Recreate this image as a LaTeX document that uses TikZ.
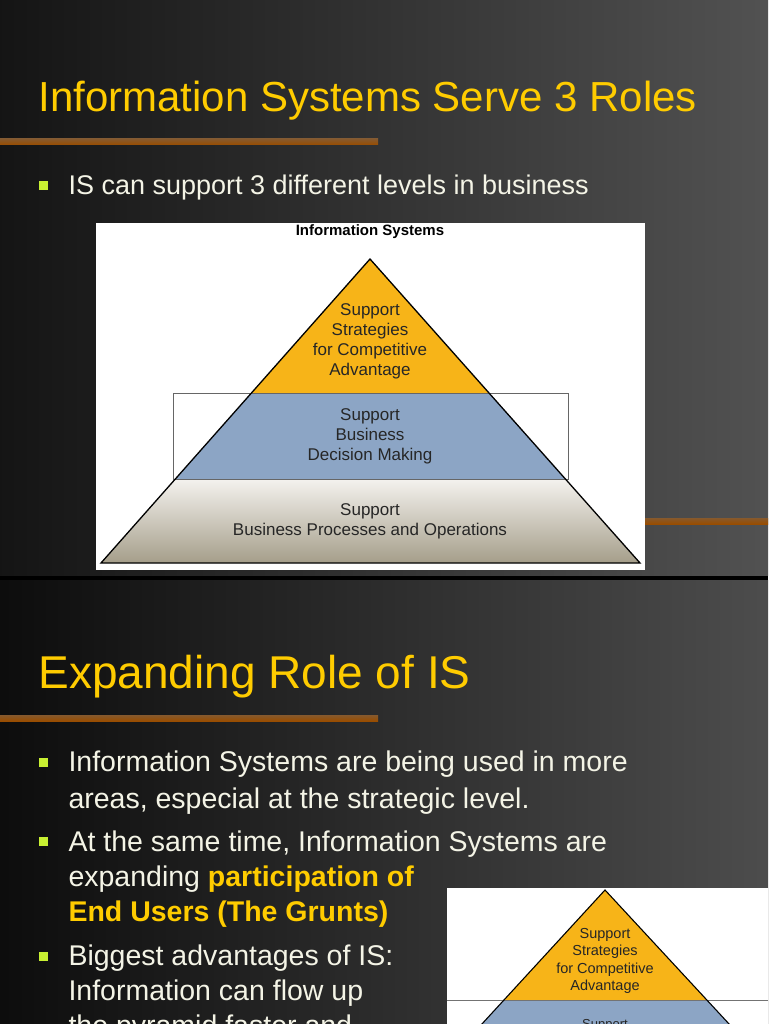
\documentclass[tikz,border=0pt]{standalone}
\usepackage{fontspec}
\setmainfont{Liberation Sans}
\usetikzlibrary{calc}
\begin{document}
\begin{tikzpicture}[x=1pt,y=-1pt,
  ttl/.style={anchor=base west,text=titleY,font=\fontsize{42}{46}\selectfont},
  btxt/.style={anchor=base west,text=txtC,font=\fontsize{28.5}{35}\selectfont},
  bsq/.style={fill=bulletG,minimum size=9pt,inner sep=0pt},
  lbl/.style={align=center,font=\fontsize{17}{20}\selectfont,text=black!85},
  bar/.style={top color=brown!70!black,bottom color=orange!60!black,draw=none}]
\definecolor{titleY}{HTML}{FFCC00}
\definecolor{txtC}{HTML}{F4F4E6}
\definecolor{bulletG}{HTML}{C8F032}
\definecolor{pyO}{HTML}{F7B418}
\definecolor{pyB}{HTML}{8CA5C5}
\definecolor{pyG1}{HTML}{F4F2EE}
\definecolor{pyG2}{HTML}{A59E8A}
\useasboundingbox (0,0) rectangle (768,1024);
\clip (0,0) rectangle (768,1024);
\fill[black] (0,0) rectangle (768,1024);
% slide 1
\shade[left color=black!92,right color=black!68] (0,0) rectangle (768,575);
% slide 2
\shade[left color=black!95,right color=black!70] (0,580) rectangle (768,1024);
% bars
\shade[bar] (0,139) rectangle (378,145);
\shade[bar] (645,518) rectangle (768,524);
\shade[bar] (0,715) rectangle (378,721);
% slide 1 text
\node[ttl] (t1) at (35,112) {Information Systems Serve 3 Roles};
\node[bsq] (b1) at (43,186) {};
\node[btxt,font=\fontsize{27}{30}\selectfont] (l1) at (65,195) {IS can support 3 different levels in business};
% picture 1
\fill[white] (96,223) rectangle (645,570);
\node[font=\bfseries\fontsize{15}{18}\selectfont] (pt) at (370,232) {Information Systems};
\coordinate (A) at (370,259);
\coordinate (L) at (101,563);
\coordinate (R) at (640,563);
\fill[pyO] (A) -- ($(A)!0.441!(L)$) -- ($(A)!0.441!(R)$) -- cycle;
\fill[pyB] ($(A)!0.441!(L)$) -- ($(A)!0.724!(L)$) -- ($(A)!0.724!(R)$) -- ($(A)!0.441!(R)$) -- cycle;
\shade[top color=pyG1,bottom color=pyG2] ($(A)!0.724!(L)$) -- (L) -- (R) -- ($(A)!0.724!(R)$) -- cycle;
\draw[black!60,line width=0.8pt] (173,393) rectangle (568,479);
\draw[black,line width=1.3pt] (L) -- (A) -- (R) -- cycle;
\node[lbl] (o1) at (370,341) {Support\\Strategies\\for Competitive\\Advantage};
\node[lbl] (m1) at (370,436) {Support\\Business\\Decision Making};
\node[lbl] (g1) at (370,521) {Support\\Business Processes and Operations};
% slide 2 text
\node[ttl,font=\fontsize{46}{50}\selectfont] (t2) at (35,688) {Expanding Role of IS};
\node[bsq] (c1) at (43,762) {};
\node[btxt] (k1) at (65,771) {Information Systems are being used in more};
\node[btxt] (k1b) at (65,808) {areas, especial at the strategic level.};
\node[bsq] (c2) at (43,841) {};
\node[btxt] (k2) at (65,851) {At the same time, Information Systems are};
\node[btxt] (k2b) at (65,886) {expanding \textcolor{titleY}{\bfseries participation of}};
\node[btxt] (k2c) at (65,921) {\textcolor{titleY}{\bfseries End Users (The Grunts)}};
\node[bsq] (c3) at (43,956) {};
\node[btxt] (k3) at (65,965) {Biggest advantages of IS:};
\node[btxt] (k3b) at (65,1000) {Information can flow up};
\node[btxt] (k3c) at (65,1035) {the pyramid faster and};
% picture 2
\fill[white] (447,888) rectangle (768,1024);
\coordinate (A2) at (605,890);
\fill[pyO] (A2) -- (504,1000) -- (707,1000) -- cycle;
\fill[pyB] (504,1000) -- (707,1000) -- (730,1025) -- (481,1025) -- cycle;
\draw[black!55,line width=0.8pt] (447,1000) -- (768,1000);
\draw[black,line width=1.1pt] (481,1025) -- (A2) -- (730,1025);
\node[lbl,font=\fontsize{14.5}{17.5}\selectfont] (o2) at (605,961) {Support\\Strategies\\for Competitive\\Advantage};
\node[lbl,font=\fontsize{13}{17}\selectfont,anchor=base] (m2) at (605,1028) {Support};
\end{tikzpicture}
\end{document}
